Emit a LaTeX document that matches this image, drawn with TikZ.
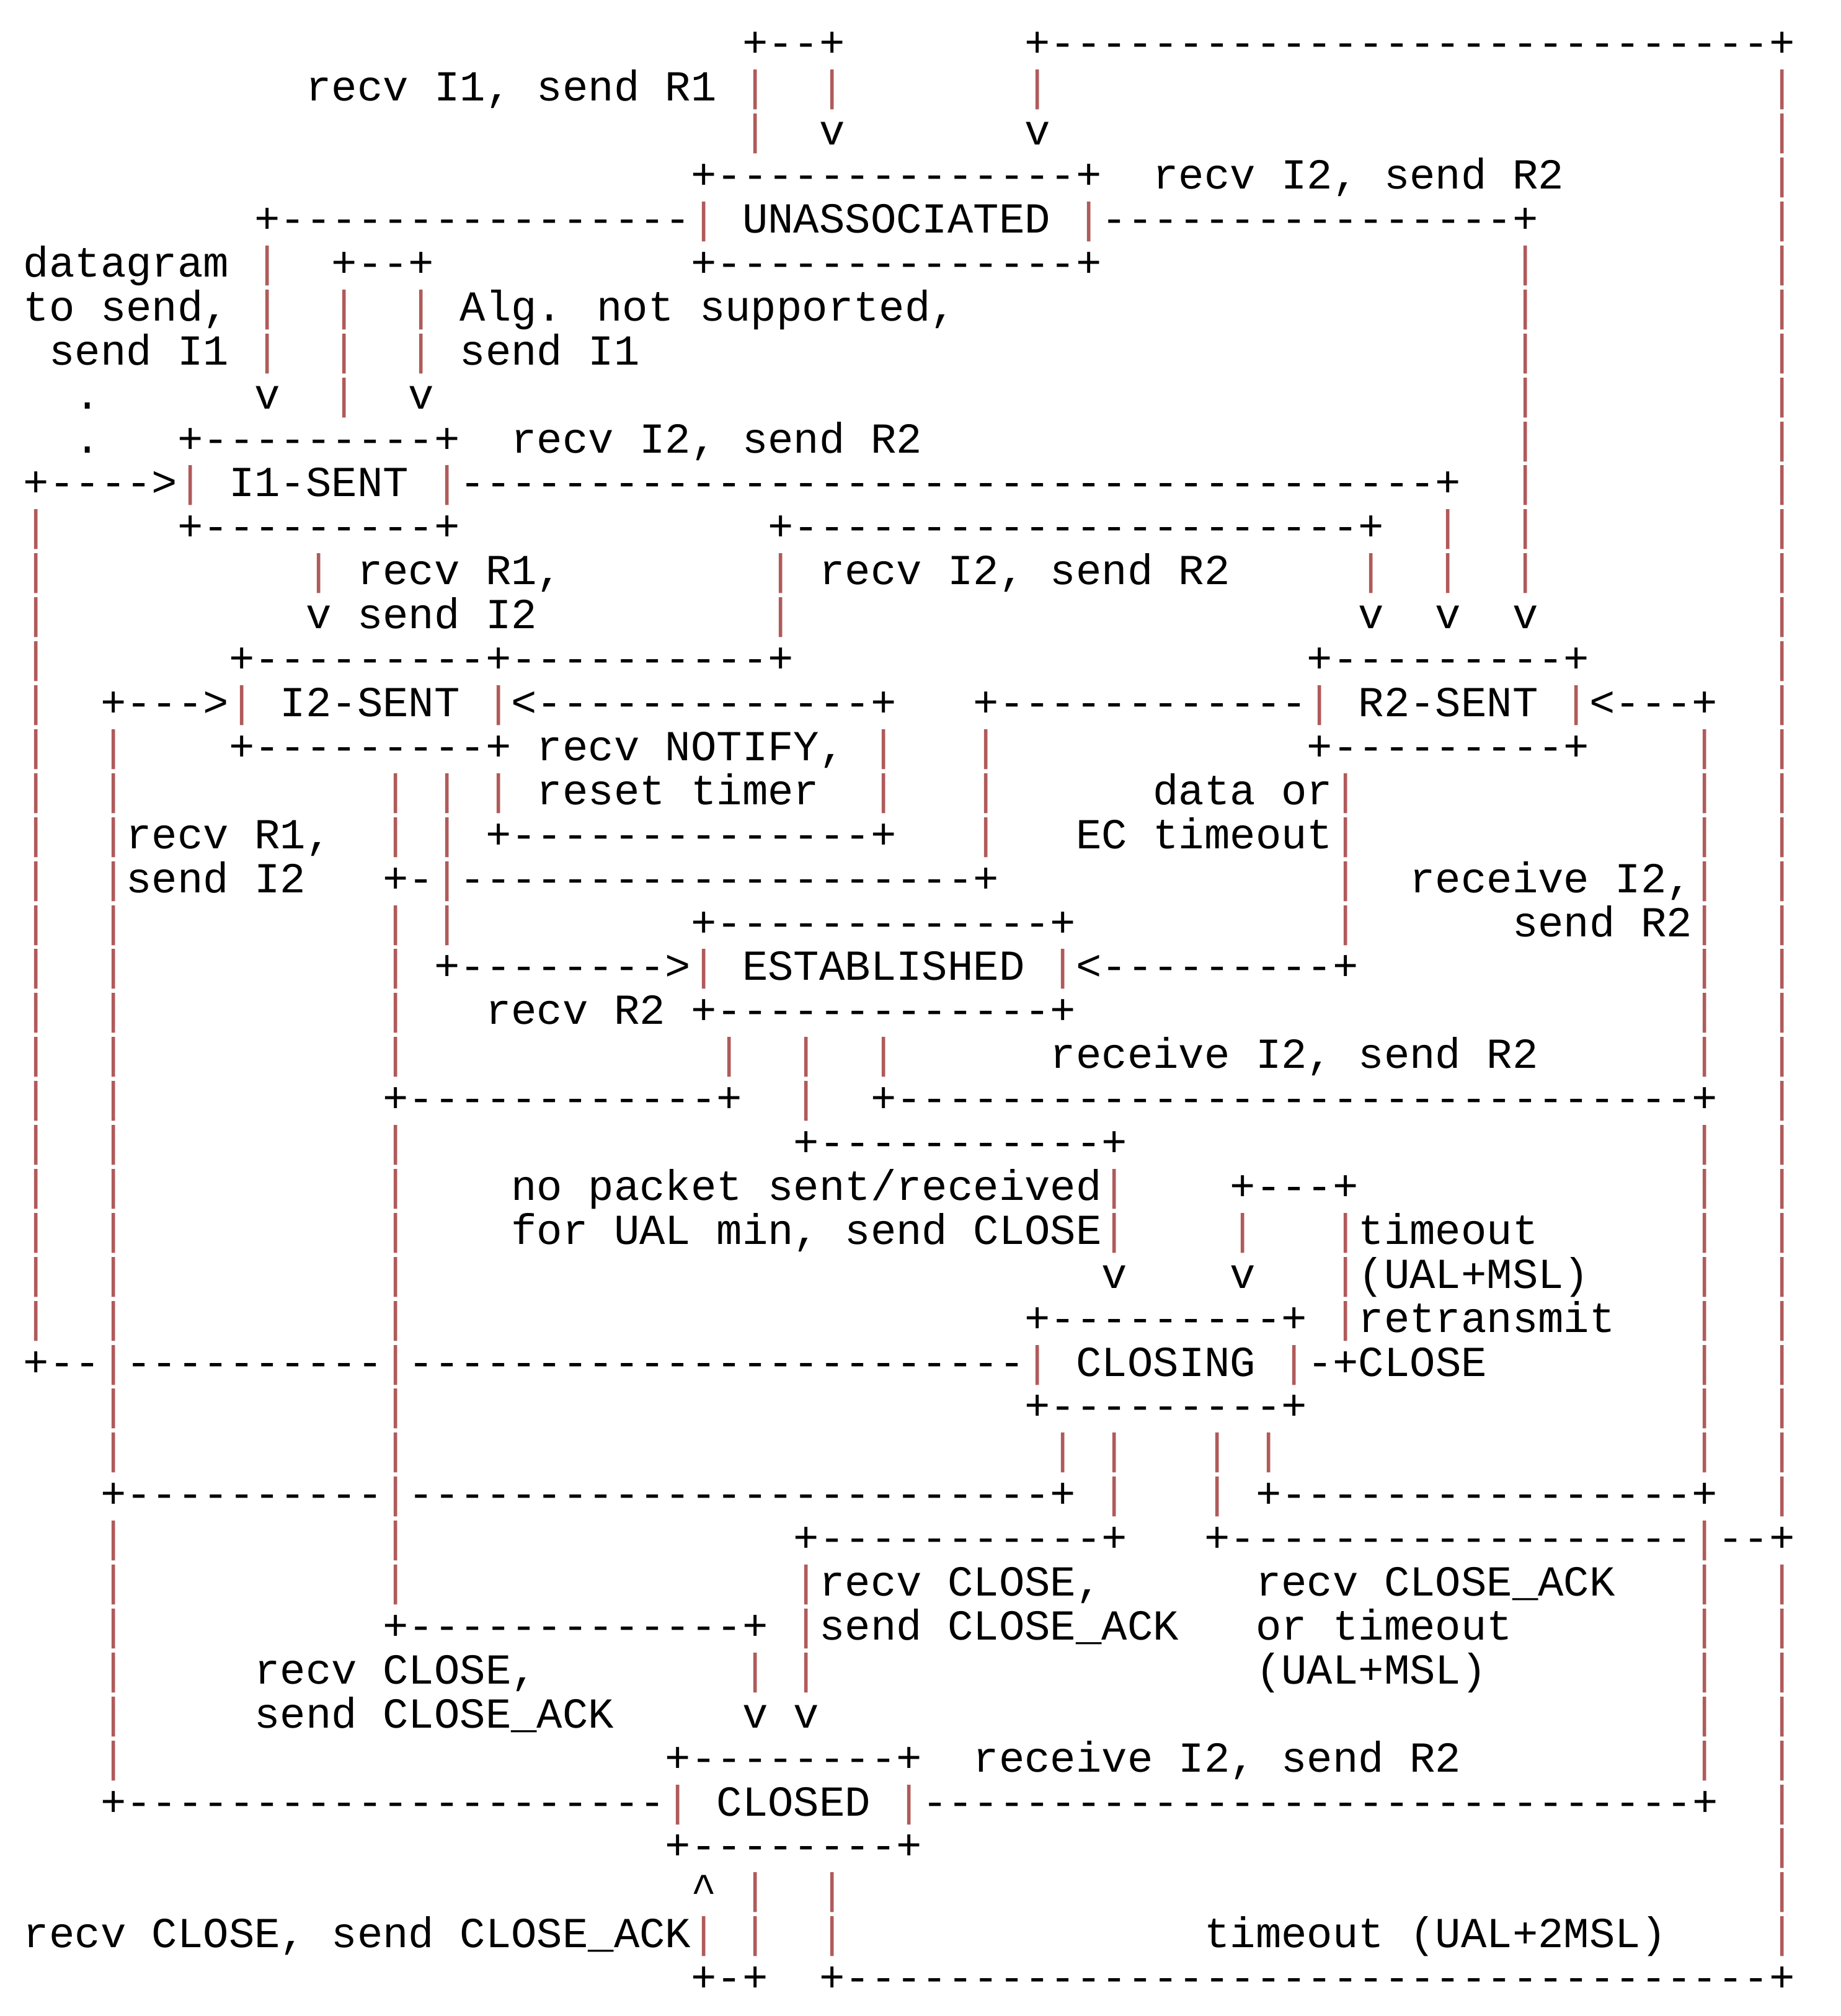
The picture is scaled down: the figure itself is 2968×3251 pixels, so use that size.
\documentclass[tikz,border=0pt]{standalone}
\usepackage{fontspec}
\newfontfamily\mono{Liberation Mono}[WordSpace={1,0,0},Ligatures=TeXOff]
\definecolor{pipecol}{HTML}{B05A5A}
\newcommand\vb{\textcolor{pipecol}{|}}
\ExplSyntaxOn
\cs_new:Npn \dd #1 {\prg_replicate:nn{#1}{-}}
\ExplSyntaxOff
\tikzset{txt/.style={anchor=base west,inner sep=0pt,text=black,font=\mono\fontsize{17.25pt}{18pt}\selectfont}}
\newcommand\seg[3]{\node[txt] at ({37+41.4*#2},{92+70.9*#1}) {#3};}
\begin{document}
\begin{tikzpicture}[x=0.25pt,y=-0.25pt]
\fill[white] (0,0) rectangle (2968,3251);
\useasboundingbox (0,0) rectangle (2968,3251);
% row 0
\seg{0}{28}{+--+}\seg{0}{39}{+\dd{28}+}
\seg{1}{11}{recv I1, send R1}\seg{1}{28}{\vb}\seg{1}{31}{\vb}\seg{1}{39}{\vb}\seg{1}{68}{\vb}
\seg{2}{28}{\vb}\seg{2}{31}{v}\seg{2}{39}{v}\seg{2}{68}{\vb}
\seg{3}{26}{+\dd{14}+}\seg{3}{44}{recv I2, send R2}\seg{3}{68}{\vb}
\seg{4}{9}{+\dd{16}\vb{} UNASSOCIATED \vb\dd{16}+}\seg{4}{68}{\vb}
\seg{5}{0}{datagram}\seg{5}{9}{\vb}\seg{5}{12}{+--+}\seg{5}{26}{+\dd{14}+}\seg{5}{58}{\vb}\seg{5}{68}{\vb}
\seg{6}{0}{to send,}\seg{6}{9}{\vb}\seg{6}{12}{\vb}\seg{6}{15}{\vb{} Alg. not supported,}\seg{6}{58}{\vb}\seg{6}{68}{\vb}
\seg{7}{1}{send I1}\seg{7}{9}{\vb}\seg{7}{12}{\vb}\seg{7}{15}{\vb{} send I1}\seg{7}{58}{\vb}\seg{7}{68}{\vb}
\seg{8}{2}{.}\seg{8}{9}{v}\seg{8}{12}{\vb}\seg{8}{15}{v}\seg{8}{58}{\vb}\seg{8}{68}{\vb}
\seg{9}{2}{.}\seg{9}{6}{+\dd{9}+}\seg{9}{19}{recv I2, send R2}\seg{9}{58}{\vb}\seg{9}{68}{\vb}
\seg{10}{0}{+---->\vb{} I1-SENT \vb\dd{38}+}\seg{10}{58}{\vb}\seg{10}{68}{\vb}
\seg{11}{0}{\vb}\seg{11}{6}{+\dd{9}+}\seg{11}{29}{+\dd{22}+}\seg{11}{55}{\vb}\seg{11}{58}{\vb}\seg{11}{68}{\vb}
\seg{12}{0}{\vb}\seg{12}{11}{\vb{} recv R1,}\seg{12}{29}{\vb{} recv I2, send R2}\seg{12}{52}{\vb}\seg{12}{55}{\vb}\seg{12}{58}{\vb}\seg{12}{68}{\vb}
\seg{13}{0}{\vb}\seg{13}{11}{v send I2}\seg{13}{29}{\vb}\seg{13}{52}{v}\seg{13}{55}{v}\seg{13}{58}{v}\seg{13}{68}{\vb}
\seg{14}{0}{\vb}\seg{14}{8}{+\dd{9}+\dd{10}+}\seg{14}{50}{+\dd{9}+}\seg{14}{68}{\vb}
\seg{15}{0}{\vb}\seg{15}{3}{+--->\vb{} I2-SENT \vb<\dd{13}+}\seg{15}{37}{+\dd{12}\vb{} R2-SENT \vb<---+}\seg{15}{68}{\vb}
\seg{16}{0}{\vb}\seg{16}{3}{\vb}\seg{16}{8}{+\dd{9}+ recv NOTIFY, \vb}\seg{16}{37}{\vb}\seg{16}{50}{+\dd{9}+}\seg{16}{65}{\vb}\seg{16}{68}{\vb}
\seg{17}{0}{\vb}\seg{17}{3}{\vb}\seg{17}{14}{\vb}\seg{17}{16}{\vb}\seg{17}{18}{\vb{} reset timer}\seg{17}{33}{\vb}\seg{17}{37}{\vb}\seg{17}{44}{data or\vb}\seg{17}{65}{\vb}\seg{17}{68}{\vb}
\seg{18}{0}{\vb}\seg{18}{3}{\vb recv R1,}\seg{18}{14}{\vb}\seg{18}{16}{\vb}\seg{18}{18}{+\dd{14}+}\seg{18}{37}{\vb}\seg{18}{41}{EC timeout\vb}\seg{18}{65}{\vb}\seg{18}{68}{\vb}
\seg{19}{0}{\vb}\seg{19}{3}{\vb send I2}\seg{19}{14}{+-\vb\dd{20}+}\seg{19}{51}{\vb}\seg{19}{54}{receive I2,\vb}\seg{19}{68}{\vb}
\seg{20}{0}{\vb}\seg{20}{3}{\vb}\seg{20}{14}{\vb}\seg{20}{16}{\vb}\seg{20}{26}{+\dd{13}+}\seg{20}{51}{\vb}\seg{20}{58}{send R2\vb}\seg{20}{68}{\vb}
\seg{21}{0}{\vb}\seg{21}{3}{\vb}\seg{21}{14}{\vb}\seg{21}{16}{+\dd{8}>\vb{} ESTABLISHED \vb<\dd{9}+}\seg{21}{65}{\vb}\seg{21}{68}{\vb}
\seg{22}{0}{\vb}\seg{22}{3}{\vb}\seg{22}{14}{\vb}\seg{22}{18}{recv R2 +\dd{13}+}\seg{22}{65}{\vb}\seg{22}{68}{\vb}
\seg{23}{0}{\vb}\seg{23}{3}{\vb}\seg{23}{14}{\vb}\seg{23}{27}{\vb}\seg{23}{30}{\vb}\seg{23}{33}{\vb}\seg{23}{40}{receive I2, send R2}\seg{23}{65}{\vb}\seg{23}{68}{\vb}
\seg{24}{0}{\vb}\seg{24}{3}{\vb}\seg{24}{14}{+\dd{12}+}\seg{24}{30}{\vb}\seg{24}{33}{+\dd{31}+}\seg{24}{68}{\vb}
\seg{25}{0}{\vb}\seg{25}{3}{\vb}\seg{25}{14}{\vb}\seg{25}{30}{+\dd{11}+}\seg{25}{65}{\vb}\seg{25}{68}{\vb}
\seg{26}{0}{\vb}\seg{26}{3}{\vb}\seg{26}{14}{\vb}\seg{26}{19}{no packet sent/received\vb}\seg{26}{47}{+---+}\seg{26}{65}{\vb}\seg{26}{68}{\vb}
\seg{27}{0}{\vb}\seg{27}{3}{\vb}\seg{27}{14}{\vb}\seg{27}{19}{for UAL min, send CLOSE\vb}\seg{27}{47}{\vb}\seg{27}{51}{\vb timeout}\seg{27}{65}{\vb}\seg{27}{68}{\vb}
\seg{28}{0}{\vb}\seg{28}{3}{\vb}\seg{28}{14}{\vb}\seg{28}{42}{v}\seg{28}{47}{v}\seg{28}{51}{\vb(UAL+MSL)}\seg{28}{65}{\vb}\seg{28}{68}{\vb}
\seg{29}{0}{\vb}\seg{29}{3}{\vb}\seg{29}{14}{\vb}\seg{29}{39}{+\dd{9}+}\seg{29}{51}{\vb retransmit}\seg{29}{65}{\vb}\seg{29}{68}{\vb}
\seg{30}{0}{+--\vb\dd{10}\vb\dd{24}\vb{} CLOSING \vb-+CLOSE}\seg{30}{65}{\vb}\seg{30}{68}{\vb}
\seg{31}{3}{\vb}\seg{31}{14}{\vb}\seg{31}{39}{+\dd{9}+}\seg{31}{65}{\vb}\seg{31}{68}{\vb}
\seg{32}{3}{\vb}\seg{32}{14}{\vb}\seg{32}{40}{\vb}\seg{32}{42}{\vb}\seg{32}{46}{\vb}\seg{32}{48}{\vb}\seg{32}{65}{\vb}\seg{32}{68}{\vb}
\seg{33}{3}{+\dd{10}\vb\dd{25}+}\seg{33}{42}{\vb}\seg{33}{46}{\vb}\seg{33}{48}{+\dd{16}+}\seg{33}{68}{\vb}
\seg{34}{3}{\vb}\seg{34}{14}{\vb}\seg{34}{30}{+\dd{11}+}\seg{34}{46}{+\dd{18}\vb--+}
\seg{35}{3}{\vb}\seg{35}{14}{\vb}\seg{35}{30}{\vb recv CLOSE,}\seg{35}{48}{recv CLOSE\_ACK}\seg{35}{65}{\vb}\seg{35}{68}{\vb}
\seg{36}{3}{\vb}\seg{36}{14}{+\dd{13}+}\seg{36}{30}{\vb send CLOSE\_ACK}\seg{36}{48}{or timeout}\seg{36}{65}{\vb}\seg{36}{68}{\vb}
\seg{37}{3}{\vb}\seg{37}{9}{recv CLOSE,}\seg{37}{28}{\vb}\seg{37}{30}{\vb}\seg{37}{48}{(UAL+MSL)}\seg{37}{65}{\vb}\seg{37}{68}{\vb}
\seg{38}{3}{\vb}\seg{38}{9}{send CLOSE\_ACK}\seg{38}{28}{v}\seg{38}{30}{v}\seg{38}{65}{\vb}\seg{38}{68}{\vb}
\seg{39}{3}{\vb}\seg{39}{25}{+\dd{8}+}\seg{39}{37}{receive I2, send R2}\seg{39}{65}{\vb}\seg{39}{68}{\vb}
\seg{40}{3}{+\dd{21}\vb{} CLOSED \vb\dd{30}+}\seg{40}{68}{\vb}
\seg{41}{25}{+\dd{8}+}\seg{41}{68}{\vb}
\seg{42}{26}{\textasciicircum}\seg{42}{28}{\vb}\seg{42}{31}{\vb}\seg{42}{68}{\vb}
\seg{43}{0}{recv CLOSE, send CLOSE\_ACK\vb}\seg{43}{28}{\vb}\seg{43}{31}{\vb}\seg{43}{46}{timeout (UAL+2MSL)}\seg{43}{68}{\vb}
\seg{44}{26}{+-+}\seg{44}{31}{+\dd{36}+}
\end{tikzpicture}
\end{document}
